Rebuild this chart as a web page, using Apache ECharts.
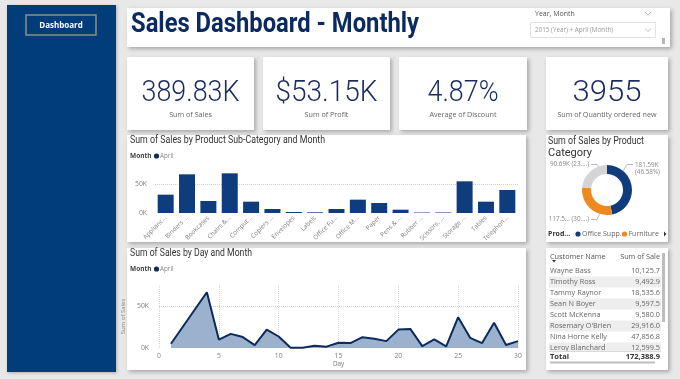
<!DOCTYPE html>
<html><head><meta charset="utf-8">
<script src="https://cdn.jsdelivr.net/npm/echarts@6/dist/echarts.min.js"></script>
<style>html,body{margin:0;padding:0;background:#e8e8e8;}#c{width:680px;height:379px;}</style>
</head><body><div id="c"></div>
<script>
// ---------------- DATA ----------------
const subCategories = ['Appliances','Binders and Binder Accessories','Bookcases','Chairs & Chairmats','Computer Peripherals','Copiers and Fax','Envelopes','Labels','Office Furnishings','Office Machines','Paper','Pens & Art Supplies','Rubber Bands','Scissors, Rulers and Trimmers','Storage & Organization','Tables','Telephones and Communication'];
const subCategoryTickLabels = ['Applianc...','Binders ...','Bookcases','Chairs &...','Comput...','Copiers ...','Envelopes','Labels','Office Fu...','Office M...','Paper','Pens & ...','Rubber ...','Scissors, ...','Storage ...','Tables','Telephon...'];
const subCategorySales = [31600,66700,20700,68400,19500,6900,1700,1200,6900,23000,17200,5700,800,900,54600,19500,39700];

const days = [1,4,5,6,7,8,9,10,11,12,13,14,15,16,17,18,19,20,21,22,23,24,25,26,27,28,29,30];
const daySales = [5000,66400,10000,16800,13000,3500,21900,13700,400,200,2700,1600,6200,5900,12900,11000,8200,21900,22700,2300,10200,2000,36700,12100,5900,30000,3500,8200];

const productCategories = ['Office Supplies','Furniture','Technology'];
const productCategorySales = [181590,117550,90690];
const productCategoryLabels = ['181.59K\n(46.58%)','117.5... (30....)','90.69K (23....)'];
const productLegendLabels = ['Office Supp...','Furniture'];

const customers = ['Wayne Bass','Timothy Ross','Tammy Raynor','Sean N Boyer','Scott McKenna',"Rosemary O'Brien",'Nina Horne Kelly','Leroy Blanchard'];
const customerSales = [10125.7,9492.9,18535.6,9597.5,9580.0,29916.0,47856.8,12599.5];
const customerTotal = 172388.9;

const kpiValues = ['389.83K','$53.15K','4.87%','3955'];
const kpiLabels = ['Sum of Sales','Sum of Profit','Average of Discount','Sum of Quantity ordered new'];

const slicerTitle = 'Year, Month';
const slicerValue = '2015 (Year) + April (Month)';
const monthLegend = 'April';

// ---------------- HELPERS ----------------
const NAVY = '#0f3c7c';
const mctx = document.createElement('canvas').getContext('2d');
function T(x, y, text, size, color, o) {
  o = o || {};
  const weight = o.weight || 'normal';
  const family = o.family || 'Roboto';
  let sx = 1;
  if (o.w) { mctx.font = weight + ' ' + size + 'px ' + family; sx = o.w / mctx.measureText(text).width; }
  return {type:'text', x:x, y:y, scaleX:sx, z:o.z||1, z2:o.z2||0,
    style:{text:text, fontSize:size, fontFamily:family, fontWeight:weight, fill:color,
      align:o.align||'left', verticalAlign:o.va||'middle'}};
}
function card(x, y, w, h) {
  return {type:'rect', shape:{x:x, y:y, width:w, height:h}, z:0,
    style:{fill:'#fff', shadowBlur:4, shadowColor:'rgba(0,0,0,0.28)', shadowOffsetX:2, shadowOffsetY:2}};
}
function chevron(x, y) {
  return {type:'polyline', z:1, shape:{points:[[x-3,y-1.5],[x,y+1.5],[x+3,y-1.5]]}, style:{stroke:'#aaa', lineWidth:0.8, fill:null}};
}
const fmtK = v => (v/1000) + 'K';
const fmtNum = v => v.toLocaleString('en-US', {minimumFractionDigits:1, maximumFractionDigits:1});

// ---------------- GRAPHIC ----------------
const g = [];
// sidebar
g.push({type:'rect', shape:{x:7, y:5, width:109, height:367}, z:0, style:{fill:'#013e79', shadowBlur:3, shadowColor:'rgba(0,0,0,0.25)', shadowOffsetX:1, shadowOffsetY:1}});
g.push({type:'rect', shape:{x:26, y:15, width:70, height:20}, z:1, style:{fill:null, stroke:'#8d8d8d', lineWidth:1.5}});
g.push(T(61, 25.5, 'Dashboard', 8, '#fff', {align:'center', weight:'bold', family:'Open Sans'}));
// cards
g.push(card(127, 8, 543, 39));
g.push(card(127, 57, 127, 73));
g.push(card(263, 57, 127, 73));
g.push(card(399, 57, 128, 73));
g.push(card(546, 57, 122, 73));
g.push(card(127, 135, 399, 107));
g.push(card(546, 135, 122, 107));
g.push(card(127, 248, 399, 122));
g.push(card(546, 248, 122, 122));
// title
g.push(T(131, 24.5, 'Sales Dashboard - Monthly', 28, '#0b2a60', {weight:'bold', w:288}));
// slicer
g.push(T(535, 14, slicerTitle, 7, '#555', {family:'Open Sans'}));
g.push(chevron(648, 13.5));
g.push({type:'rect', shape:{x:530.5, y:22.5, width:125, height:15}, z:1, style:{fill:null, stroke:'#e2e2e2', lineWidth:1}});
g.push(T(535, 30, slicerValue, 6.3, '#9a9a9a', {family:'Open Sans'}));
g.push(chevron(648, 30));
g.push({type:'rect', shape:{x:662, y:38, width:3, height:6}, z:1, style:{fill:'#b5b5b5'}});
// KPIs
const kpiCenters = [190.5, 326.5, 463, 607];
const kpiWidths = [98, 102, 71, 69];
kpiValues.forEach((v, i) => {
  g.push(T(kpiCenters[i], 93.5, v, 30, '#1b2b5f', {align:'center', w:kpiWidths[i], weight:300}));
  g.push(T(kpiCenters[i], 115, kpiLabels[i], 7.2, '#666', {align:'center', family:'Open Sans'}));
});
// chart titles & legends
g.push(T(130, 140.5, 'Sum of Sales by Product Sub-Category and Month', 10, '#333', {w:195}));
g.push(T(130, 253, 'Sum of Sales by Day and Month', 10, '#333', {w:122}));
g.push(T(548, 141, 'Sum of Sales by Product', 10, '#333', {w:96}));
g.push(T(548, 153.5, 'Category', 10, '#333', {w:44}));
[156, 269].forEach(y => {
  g.push(T(130, y, 'Month', 6.5, '#444', {weight:'bold', family:'Open Sans'}));
  g.push({type:'circle', shape:{cx:156.5, cy:y, r:2.6}, z:1, style:{fill:'#0c2a5c'}});
  g.push(T(160, y, monthLegend, 6.3, '#888', {family:'Open Sans'}));
});
// donut legend
g.push(T(548, 234, 'Prod...', 7, '#333', {weight:'bold', family:'Open Sans'}));
g.push({type:'circle', shape:{cx:578, cy:234, r:2.6}, z:1, style:{fill:NAVY}});
g.push(T(582, 234, productLegendLabels[0], 7, '#666', {family:'Open Sans'}));
g.push({type:'circle', shape:{cx:624.5, cy:234, r:2.6}, z:1, style:{fill:'#ec8a1f'}});
g.push(T(628.5, 234, productLegendLabels[1], 7, '#666', {family:'Open Sans'}));
g.push({type:'polygon', z:1, shape:{points:[[664,231.5],[666.5,234],[664,236.5]]}, style:{fill:'#333'}});
// table
g.push(T(550, 256.5, 'Customer Name', 7.3, '#555', {family:'Open Sans'}));
g.push(T(660, 256.5, 'Sum of Sale', 7.3, '#555', {align:'right', family:'Open Sans'}));
g.push({type:'polygon', z:1, shape:{points:[[552,260],[556,260],[554,262.5]]}, style:{fill:'#333'}});
customers.forEach((c, i) => {
  const y = 271 + i * 11;
  if (i % 2 === 1) g.push({type:'rect', shape:{x:549, y:y-5.5, width:112, height:11}, z:1, z2:0, style:{fill:'#eeeeee'}});
  g.push(T(550, y, c, 7.3, '#666', {family:'Open Sans', z2:1}));
  g.push(T(660, y, fmtNum(customerSales[i]), 7.3, '#666', {align:'right', family:'Open Sans', z2:1}));
});
g.push({type:'rect', shape:{x:548, y:351, width:114, height:11}, z:1, z2:5, style:{fill:'#fff'}});
g.push({type:'line', shape:{x1:549, y1:351.5, x2:661, y2:351.5}, z:1, z2:6, style:{stroke:'#cfcfcf', lineWidth:0.8}});
g.push(T(550, 357, 'Total', 7.5, '#333', {weight:'bold', family:'Open Sans', z2:7}));
g.push(T(660, 357, fmtNum(customerTotal), 7.5, '#333', {align:'right', weight:'bold', family:'Open Sans', z2:7}));
g.push({type:'rect', shape:{x:662, y:253, width:3, height:69}, z:1, z2:7, style:{fill:'#bdbdbd'}});
g.push({type:'rect', shape:{x:550, y:361.5, width:105, height:2}, z:1, z2:7, style:{fill:'#bdbdbd'}});

// ---------------- CHART ----------------
const chart = echarts.init(document.getElementById('c'));
const axisFont = {fontSize:6.8, color:'#808080', fontFamily:'Open Sans'};
chart.setOption({
  animation:false,
  backgroundColor:'#e8e8e8',
  graphic:{elements:g},
  grid:[
    {left:155, right:162, top:169.5, bottom:166},
    {left:159, right:162, top:285, bottom:31}
  ],
  xAxis:[
    {gridIndex:0, type:'category', data:subCategories,
      axisLine:{show:false}, axisTick:{show:false},
      axisLabel:Object.assign({}, axisFont, {fontSize:6.3, rotate:45, interval:0, margin:4,
        formatter:(v, i) => subCategoryTickLabels[i]})},
    {gridIndex:1, type:'value', min:0, max:30, interval:5,
      axisLine:{show:false}, axisTick:{show:false},
      axisLabel:Object.assign({}, axisFont, {margin:5}),
      splitLine:{show:true, lineStyle:{type:'dotted', color:'#d8d8d8'}},
      name:'Day', nameLocation:'middle', nameGap:13, nameTextStyle:{fontSize:6.3, color:'#777', fontFamily:'Open Sans'}}
  ],
  yAxis:[
    {gridIndex:0, type:'value', min:0, max:75000, interval:50000,
      axisLine:{show:false}, axisTick:{show:false},
      axisLabel:Object.assign({}, axisFont, {formatter:fmtK, showMaxLabel:false, margin:8}),
      splitLine:{show:true, showMinLine:false, showMaxLine:false, lineStyle:{type:'dotted', color:'#cfcfcf'}}},
    {gridIndex:1, type:'value', min:0, max:75000, interval:50000,
      axisLine:{show:false}, axisTick:{show:false},
      axisLabel:Object.assign({}, axisFont, {formatter:fmtK, showMaxLabel:false, margin:10}),
      splitLine:{show:true, showMinLine:false, showMaxLine:false, lineStyle:{type:'dotted', color:'#cfcfcf'}},
      name:'Sum of Sales', nameLocation:'middle', nameGap:25, nameRotate:90,
      nameTextStyle:{fontSize:6, color:'#888', fontFamily:'Open Sans'}}
  ],
  series:[
    {type:'bar', xAxisIndex:0, yAxisIndex:0, data:subCategorySales, barWidth:16,
      itemStyle:{color:NAVY}, z:3},
    {type:'line', xAxisIndex:1, yAxisIndex:1, data:days.map((d, i) => [d, daySales[i]]),
      symbol:'none', lineStyle:{color:'#0c2a5c', width:2}, areaStyle:{color:'#9bb2ce', opacity:1}, z:3},
    {type:'pie', center:[607,190], radius:[16,25], startAngle:90, clockwise:true, z:3,
      data:productCategories.map((c, i) => ({name:c, value:productCategorySales[i]})),
      color:[NAVY,'#ec8a1f','#d4d4d4'],
      label:{show:true, overflow:'none', formatter:p => productCategoryLabels[p.dataIndex], fontSize:6.3, color:'#888', fontFamily:'Open Sans', lineHeight:7.5},
      labelLine:{show:true, length:4, length2:6, lineStyle:{color:'#aaa', width:0.8}},
      labelLayout:function(p){
        if (p.dataIndex === 0) return {x:635, y:168.5, align:'left', verticalAlign:'middle', labelLinePoints:[[623,171],[627,164.5],[633,164.5]]};
        if (p.dataIndex === 1) return {x:589, y:219.5, align:'right', verticalAlign:'middle', labelLinePoints:[[600,213],[597,219.5],[591,219.5]]};
        return {x:589, y:164.5, align:'right', verticalAlign:'middle', labelLinePoints:[[599,167],[597,164.5],[591,164.5]]};
      }
    }
  ]
});
</script>
</body></html>
